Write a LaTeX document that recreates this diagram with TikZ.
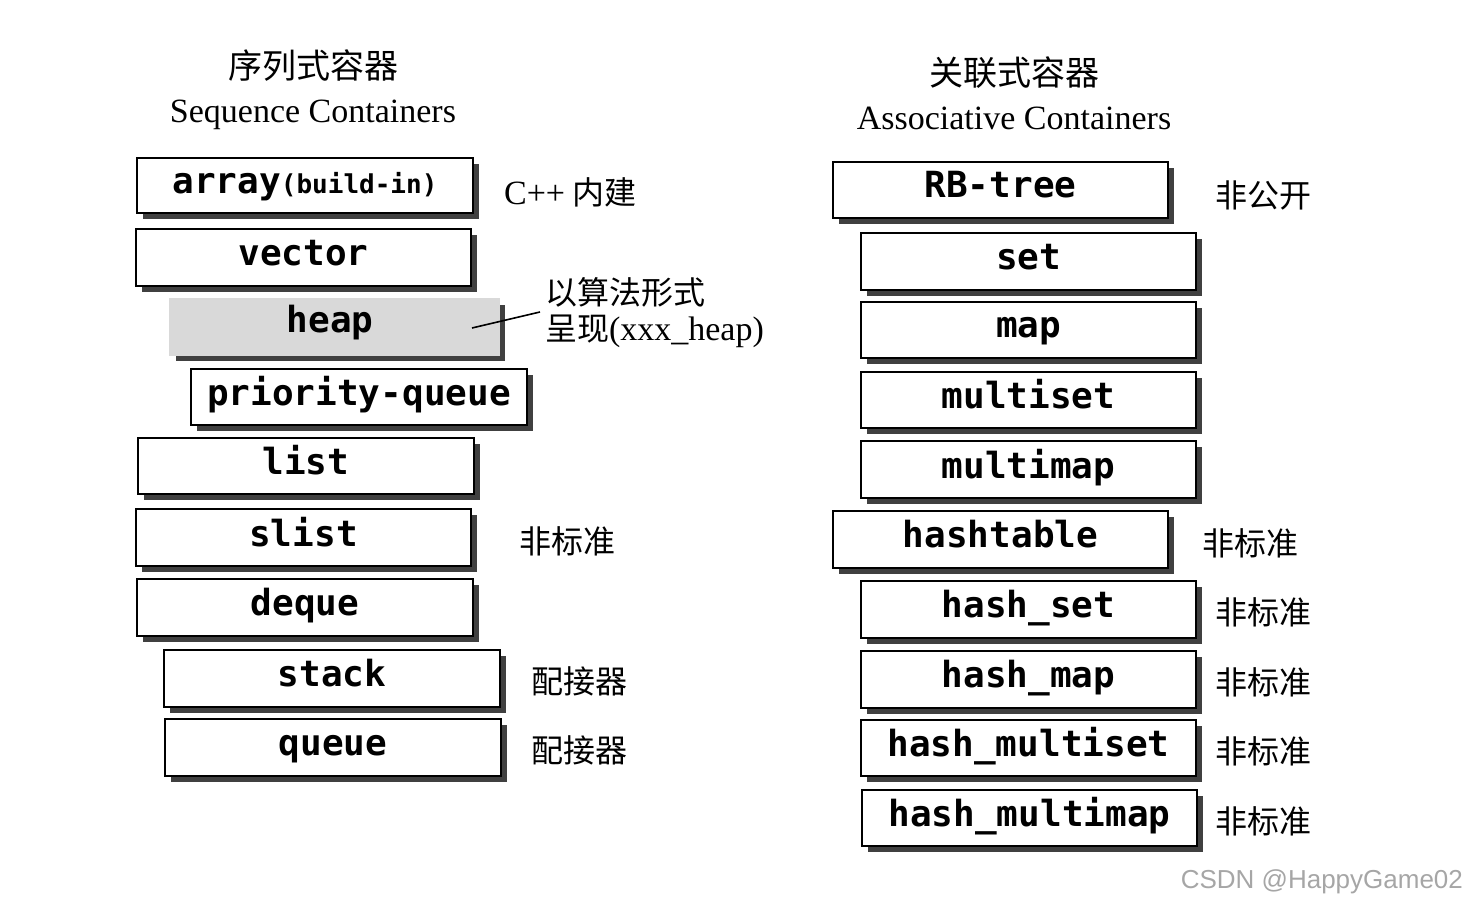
\documentclass[tikz,border=0pt]{standalone}
\usepackage{fontspec}
\setmainfont{Liberation Serif}
\newfontfamily\cjk{Noto Sans CJK SC}[BoldFont={Noto Sans CJK SC}]
\newfontfamily\mono{DejaVu Sans Mono}
\newfontfamily\wm{Liberation Sans}
\begin{document}
\begin{tikzpicture}[x=0.5pt,y=-0.5pt,
  lbl/.style={font=\mono\bfseries\fontsize{18}{20}\selectfont},
  side/.style={anchor=west,font=\cjk\fontsize{16}{18}\selectfont},
  hdr/.style={align=center,font=\fontsize{17}{22}\selectfont}]
\useasboundingbox (0,0) rectangle (1472,908);
\newcommand\cbox[6]{%
  \fill[black!75] (#3+6,#4+6) rectangle (#5+6,#6+6);
  \draw[fill=white,line width=1.2pt] (#3,#4) rectangle (#5,#6);
  \node[lbl] (#1) at ({(#3+#5)/2},{(#4+#6)/2}) {\strut#2};}
% headers
\node[hdr] (h1) at (313,90) {{\cjk 序列式容器}\\Sequence Containers};
\node[hdr] (h2) at (1014,93) {{\cjk 关联式容器}\\Associative Containers};
% left column
\fill[black!75] (143,164) rectangle (479,219);
\draw[fill=white,line width=1.2pt] (137,158) rectangle (473,213);
\node[lbl] (arr) at (305,186) {\strut array{\fontsize{13}{14}\selectfont(build-in)}};
\cbox{vec}{vector}{136}{229}{471}{286}
\fill[black!75] (176,305) rectangle (505,361);
\draw[fill=white,black!15,line width=0.6pt] (170,299) rectangle (499,355);
\node[lbl] (heap) at (330,325) {\strut heap};
\cbox{pq}{priority-queue}{191}{369}{527}{425}
\cbox{list}{list}{138}{438}{474}{494}
\cbox{slist}{slist}{136}{509}{471}{566}
\cbox{deque}{deque}{137}{579}{473}{636}
\cbox{stack}{stack}{164}{650}{500}{707}
\cbox{queue}{queue}{165}{719}{501}{776}
% right column
\cbox{rb}{RB-tree}{833}{162}{1168}{218}
\cbox{set}{set}{861}{233}{1196}{290}
\cbox{map}{map}{861}{302}{1196}{358}
\cbox{mset}{multiset}{861}{372}{1196}{428}
\cbox{mmap}{multimap}{861}{441}{1196}{498}
\cbox{ht}{hashtable}{833}{511}{1168}{568}
\cbox{hs}{hash\_set}{861}{581}{1196}{638}
\cbox{hm}{hash\_map}{861}{651}{1196}{708}
\cbox{hms}{hash\_multiset}{861}{720}{1196}{776}
\cbox{hmm}{hash\_multimap}{862}{790}{1197}{846}
% side labels
\node[side] (s1) at (497,192) {{\fontsize{17}{18}\selectfont\rmfamily C++} 内建};
\node[side,align=left] (s2) at (538,313) {以算法形式\\呈现{\rmfamily\fontsize{17}{18}\selectfont(xxx\_heap)}};
\coordinate (t1) at (540,312);
\draw[line width=0.8pt] (472,328) -- (t1);
\node[side] (s3) at (512,541) {非标准};
\node[side] (s4) at (524,681) {配接器};
\node[side] (s5) at (524,750) {配接器};
\node[side] (r1) at (1208,195) {非公开};
\node[side] (r2) at (1195,543) {非标准};
\node[side] (r3) at (1208,612) {非标准};
\node[side] (r4) at (1208,682) {非标准};
\node[side] (r5) at (1208,751) {非标准};
\node[side] (r6) at (1208,821) {非标准};
\node[anchor=east,text=black!35,font=\wm\fontsize{13}{14}\selectfont] (wm) at (1470,882) {CSDN @HappyGame02};
\end{tikzpicture}
\end{document}
